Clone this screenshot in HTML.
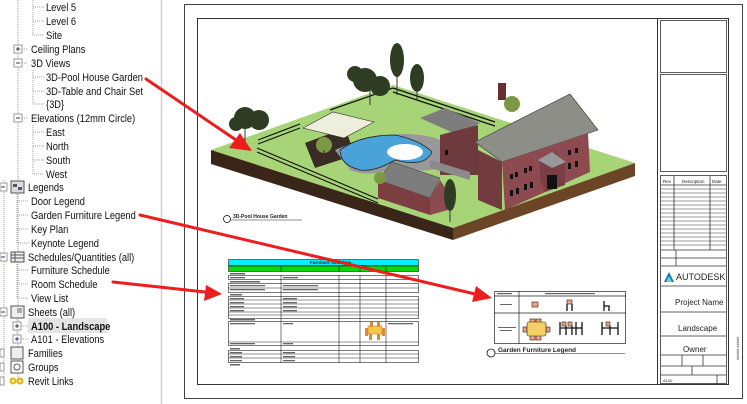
<!DOCTYPE html>
<html><head><meta charset="utf-8"><style>
html,body{margin:0;padding:0;background:#fff;}
svg{display:block;}
.t{font-family:"Liberation Sans",sans-serif;font-size:11px;fill:#111;}
.s{font-family:"Liberation Sans",sans-serif;fill:#222;}
</style></head><body>
<svg width="747" height="404" viewBox="0 0 747 404" xmlns="http://www.w3.org/2000/svg">
<rect width="747" height="404" fill="#fff"/>
<line x1="161.5" y1="0" x2="161.5" y2="404" stroke="#d0d0d0" stroke-width="1.5"/>
<g stroke="#a0a0a0" stroke-dasharray="1,1" fill="none">
<path d="M33 0V35H44M33 7H44M33 21H44"/>
<path d="M18 0V380"/>
<path d="M18 49H28M18 63H28M18 118H28"/>
<path d="M33 70V104H44M33 77H44M33 91H44"/>
<path d="M33 125V174H44M33 132H44M33 146H44M33 160H44"/>
<path d="M4 180V380"/>
<path d="M17 194V243H29M17 201H29M17 215H29M17 229H29"/>
<path d="M17 264V298H29M17 270H29M17 284H29"/>
<path d="M17 319V339H29M17 326H29"/>
</g>
<g fill="#fff" stroke="#999" stroke-width="1">
<rect x="14" y="45" width="8" height="8"/><rect x="14" y="59" width="8" height="8"/><rect x="14" y="114" width="8" height="8"/>
<rect x="0" y="183" width="7" height="8"/><rect x="0" y="253" width="7" height="8"/><rect x="0" y="308" width="7" height="8"/>
<rect x="13" y="322" width="8" height="8"/><rect x="13" y="335" width="8" height="8"/>
<rect x="0" y="349" width="4" height="8"/><rect x="0" y="363" width="4" height="8"/><rect x="0" y="377" width="4" height="8"/>
</g>
<g stroke="#336" stroke-width="1"><path d="M16 49H20M18 47V51M16 63H20M16 118H20M1 187H5M1 257H5M1 312H5M15 326H19M17 324V328M15 339H19M17 337V341"/></g>
<rect x="11" y="181" width="13" height="12" fill="#ddd" stroke="#555"/><rect x="13" y="184" width="4" height="3" fill="#556"/><rect x="18" y="187" width="4" height="3" fill="#556"/>
<rect x="11" y="252" width="13" height="10" fill="#eee" stroke="#555"/><path d="M11 255H24M11 258H24M15 252V262" stroke="#555"/>
<rect x="11" y="306" width="13" height="12" fill="#eee" stroke="#555"/><rect x="17" y="308" width="5" height="5" fill="#aaa"/>
<rect x="11" y="347" width="12" height="12" fill="#eee" stroke="#555"/>
<rect x="11" y="361" width="12" height="12" fill="#fff" stroke="#555"/><circle cx="17" cy="367" r="3" fill="none" stroke="#555"/>
<circle cx="13" cy="381" r="3.5" fill="#e8b800"/><circle cx="20" cy="381" r="3.5" fill="#e8b800"/><circle cx="13" cy="381" r="1.3" fill="#fff"/><circle cx="20" cy="381" r="1.3" fill="#fff"/>
<rect x="28" y="318" width="79" height="15" fill="#e4e4e4"/>
<g class="t" transform="scale(0.85 1)">
<text x="54.1" y="11">Level 5</text><text x="54.1" y="25">Level 6</text><text x="54.1" y="39">Site</text>
<text x="36.5" y="53">Ceiling Plans</text><text x="36.5" y="67">3D Views</text>
<text x="54.1" y="81">3D-Pool House Garden</text><text x="54.1" y="95">3D-Table and Chair Set</text><text x="54.1" y="108">{3D}</text>
<text x="36.5" y="122">Elevations (12mm Circle)</text>
<text x="54.1" y="136">East</text><text x="54.1" y="150">North</text><text x="54.1" y="164">South</text><text x="54.1" y="178">West</text>
<text x="32.9" y="191">Legends</text>
<text x="36.5" y="205">Door Legend</text><text x="36.5" y="219">Garden Furniture Legend</text><text x="36.5" y="233">Key Plan</text><text x="36.5" y="247">Keynote Legend</text>
<text x="32.9" y="261">Schedules/Quantities (all)</text>
<text x="36.5" y="274">Furniture Schedule</text><text x="36.5" y="288">Room Schedule</text><text x="36.5" y="302">View List</text>
<text x="32.9" y="316">Sheets (all)</text>
<text x="36.5" y="330" font-weight="bold">A100 - Landscape</text><text x="36.5" y="343">A101 - Elevations</text>
<text x="32.9" y="357">Families</text><text x="32.9" y="371">Groups</text><text x="32.9" y="385">Revit Links</text>
</g>
<rect x="184.5" y="4.5" width="558" height="394" fill="#fff" stroke="#444" stroke-width="1"/>
<rect x="197.5" y="18.5" width="531" height="366" fill="none" stroke="#333" stroke-width="1"/>
<line x1="657.5" y1="18" x2="657.5" y2="385" stroke="#333"/>
<g fill="none" stroke="#333" stroke-width="0.8">
<rect x="660.5" y="20.5" width="66" height="52"/>
<rect x="660.5" y="74.5" width="66" height="97"/>
<rect x="660.5" y="175.5" width="66" height="208"/>
<path d="M661 185H726M674 176V250M710 176V250M661 250H726"/>
<path d="M661 189H726M661 193H726M661 197H726M661 201H726M661 205H726M661 209H726M661 213H726M661 217H726M661 221H726M661 225H726M661 229H726M661 233H726M661 237H726M661 241H726M661 245H726" stroke-width="0.5"/>
<path d="M661 258H726M676 250V266M661 266H726M661 286H726M661 312H726M661 336H726M661 355H726M661 366H726M661 375H726M682 355V366M703 355V366M692 366V375M717 375V384"/>
</g>
<g class="s" font-size="4.5"><text x="663" y="183">Rev</text><text x="682" y="183">Description</text><text x="712" y="183">Date</text></g>
<path d="M664 282L669 272L674 282Z" fill="#0a79b5"/><path d="M666 282L669 276L672 282Z" fill="#7cc"/>
<text class="s" x="676" y="280" font-size="9" fill="#222">AUTODESK</text>
<text class="s" x="675" y="305" font-size="8">Project Name</text>
<text class="s" x="678" y="331" font-size="8">Landscape</text>
<text class="s" x="683" y="352" font-size="8">Owner</text>
<text class="s" x="663" y="382" font-size="4">A100</text>
<text class="s" x="739" y="360" font-size="4" transform="rotate(-90 739 360)">#####  #####</text>
<polygon points="211,150 393,85 635,163 453,228" fill="#a6d476"/>
<polygon points="211,150 453,228 453,240 211,164" fill="#3a2618"/>
<polygon points="453,228 635,163 635,176 453,240" fill="#6b4526"/>
<g stroke="#111" stroke-width="1.2" fill="none">
<path d="M257 148L378 199M257 152L378 203M258 140L300 124M258 144L300 128M330 110L393 88M393 88L495 122M393 92L495 126"/>
</g>
<polygon points="305,143 345,128 355,155 315,168" fill="#3a2c25"/>
<polygon points="303,128 333,112 374,122 344,138" fill="#eeeedd" stroke="#333" stroke-width="0.6"/>
<path d="M335,150 Q380,130 420,135 Q460,140 450,165 Q420,175 395,168 Q370,178 350,170 Z" fill="#999"/>
<path d="M340,150 Q360,135 395,135 Q420,140 432,152 Q425,168 395,160 Q375,172 360,170 Q340,165 340,150Z" fill="#4aa3d8" stroke="#222" stroke-width="0.8"/>
<ellipse cx="405" cy="152" rx="18" ry="8" fill="#fff"/>
<polygon points="378,180 392,162 440,178 430,198" fill="#7d7d7d" stroke="#333" stroke-width="0.5"/>
<polygon points="378,180 430,198 430,215 378,198" fill="#7d3e42"/>
<polygon points="430,198 440,180 448,192 448,210 430,215" fill="#8b4b50"/>
<polygon points="420,118 445,108 480,123 458,135" fill="#7d7d7d"/>
<polygon points="440,135 478,125 478,175 440,175" fill="#6f3a3d"/>
<polygon points="430,160 470,172 470,180 430,168" fill="#8a8a8a"/>
<polygon points="498,25 506,25 506,42 498,42" fill="#6b2e2e" transform="translate(0,58)"/>
<polygon points="475,142 570,94 598,130 502,162" fill="#8e8e88" stroke="#444" stroke-width="0.7"/>
<polygon points="478,150 502,162 502,210 478,200" fill="#723b3f"/>
<polygon points="502,162 588,133 590,172 505,210" fill="#8d4a50"/>
<polygon points="540,160 555,152 565,162 565,185 545,192 540,180" fill="#7a3f44"/>
<polygon points="538,160 552,152 566,162 552,168" fill="#999"/>
<rect x="547" y="175" width="10" height="14" fill="#111"/>
<g fill="#111">
<rect x="510" y="174" width="3" height="5"/><rect x="515" y="172" width="3" height="5"/><rect x="510" y="190" width="3" height="6"/><rect x="516" y="188" width="3" height="6"/>
<rect x="524" y="168" width="3" height="5"/><rect x="529" y="166" width="3" height="5"/><rect x="524" y="184" width="3" height="6"/><rect x="530" y="182" width="3" height="6"/>
<rect x="568" y="150" width="3" height="5"/><rect x="575" y="148" width="3" height="5"/><rect x="568" y="163" width="3" height="6"/><rect x="575" y="161" width="3" height="6"/>
<rect x="445" y="150" width="3" height="5"/>
</g>
<g fill="#2e3d22">
<circle cx="245" cy="118" r="11"/><circle cx="259" cy="120" r="10"/><circle cx="236" cy="124" r="7"/>
<circle cx="365" cy="80" r="12"/><circle cx="380" cy="86" r="10"/><circle cx="355" cy="74" r="8"/>
<ellipse cx="397" cy="60" rx="7" ry="17"/><ellipse cx="417" cy="78" rx="7" ry="14"/>
<ellipse cx="450" cy="195" rx="6" ry="16"/>
</g>
<g fill="#7c9a45"><circle cx="324" cy="145" r="8"/><circle cx="512" cy="104" r="8"/><circle cx="380" cy="178" r="6"/></g>
<g stroke="#333" stroke-width="1"><path d="M245 128V150M370 90V105M397 75V95M417 90V100M450 205V222M324 150V162"/></g>
<circle cx="227" cy="219" r="3.5" fill="#fff" stroke="#111" stroke-width="0.8"/>
<text class="s" x="233" y="218" font-size="5" font-weight="bold">3D-Pool House Garden</text>
<line x1="230" y1="220" x2="302" y2="220" stroke="#222" stroke-width="0.6"/>
<rect x="228.5" y="259.5" width="190" height="6" fill="#00f0ff" stroke="#222" stroke-width="0.6"/>
<rect x="228.5" y="266" width="190" height="5.5" fill="#0cd60c" stroke="#222" stroke-width="0.6"/>
<g stroke="#222" stroke-width="0.6" fill="none">
<path d="M281 266V272M339 266V272M360 266V272M386 266V272"/>
<rect x="228.5" y="275.5" width="190" height="4"/>
<rect x="228.5" y="283.5" width="190" height="9"/><path d="M228 288H419"/>
<rect x="228.5" y="296.5" width="190" height="22"/><path d="M228 300H419M228 304H419M228 308H419M228 312H419M228 315H419"/>
<rect x="228.5" y="321.5" width="190" height="24"/><path d="M228 342H419"/>
<rect x="228.5" y="350.5" width="190" height="12"/><path d="M228 354H419M228 358H419"/>
<path d="M281 275V363M339 275V363M360 275V363M386 275V363"/>
</g>
<g fill="#666">
<rect x="230" y="273" width="15" height="1.5"/><rect x="230" y="281" width="30" height="1.5"/><rect x="230" y="294" width="12" height="1.5"/>
<rect x="230" y="277" width="15" height="1.3"/><rect x="283" y="277" width="15" height="1.3"/>
<rect x="230" y="285" width="35" height="1.3"/><rect x="283" y="285" width="35" height="1.3"/><rect x="230" y="289" width="35" height="1.3"/><rect x="283" y="289" width="35" height="1.3"/>
<rect x="230" y="298" width="14" height="1.3"/><rect x="283" y="298" width="14" height="1.3"/><rect x="230" y="302" width="14" height="1.3"/><rect x="283" y="302" width="14" height="1.3"/>
<rect x="230" y="306" width="14" height="1.3"/><rect x="283" y="306" width="14" height="1.3"/><rect x="230" y="310" width="14" height="1.3"/><rect x="283" y="310" width="14" height="1.3"/>
<rect x="230" y="319" width="25" height="1.5"/><rect x="230" y="323" width="25" height="1.3"/><rect x="283" y="323" width="10" height="1.3"/><rect x="388" y="323" width="25" height="1.3"/>
<rect x="230" y="343" width="25" height="1.3"/><rect x="283" y="343" width="10" height="1.3"/><rect x="230" y="348" width="10" height="1.5"/>
<rect x="230" y="352" width="12" height="1.3"/><rect x="283" y="352" width="12" height="1.3"/><rect x="230" y="356" width="12" height="1.3"/><rect x="283" y="356" width="12" height="1.3"/><rect x="230" y="360" width="12" height="1.3"/><rect x="283" y="360" width="12" height="1.3"/>
<rect x="230" y="364" width="10" height="1.5"/>
</g>
<text class="s" x="310" y="264" font-size="4.5" font-weight="bold">Furniture Schedule</text>
<rect x="368" y="326" width="14" height="8" fill="#f5c84a" stroke="#c8782c" stroke-width="0.6"/>
<g fill="#d88b3a"><rect x="365" y="328" width="3" height="8"/><rect x="382" y="328" width="3" height="8"/><rect x="369" y="334" width="3" height="6"/><rect x="377" y="334" width="3" height="6"/><rect x="370" y="322" width="3" height="5"/><rect x="377" y="322" width="3" height="5"/></g>
<g fill="none" stroke="#222" stroke-width="0.7">
<rect x="494.5" y="291.5" width="131" height="52"/><path d="M494 296H626M519 291V344M494 313H626"/>
</g>
<g fill="#666"><rect x="497" y="293" width="15" height="1.2"/><rect x="545" y="293" width="50" height="1.2"/><rect x="500" y="304" width="12" height="1"/><rect x="498" y="327" width="18" height="1"/><rect x="500" y="330" width="12" height="1"/></g>
<g fill="#f4a07c" stroke="#222" stroke-width="0.6">
<rect x="532" y="302" width="6" height="5"/><rect x="567" y="300" width="5" height="4"/>
<rect x="530" y="319" width="5" height="5"/><rect x="536" y="319" width="5" height="5"/><rect x="530" y="335" width="5" height="5"/><rect x="536" y="335" width="5" height="5"/>
<rect x="523" y="327" width="4" height="5"/><rect x="546" y="327" width="4" height="5"/>
<rect x="562" y="322" width="4" height="4"/><rect x="568" y="322" width="4" height="4"/><rect x="606" y="322" width="4" height="4"/>
</g>
<rect x="527" y="322" width="19" height="14" rx="2" fill="#f5d060" stroke="#222" stroke-width="0.6"/>
<g stroke="#111" stroke-width="1.3" fill="none">
<path d="M567 304V311M572 304V311M604 301V311M604 306H609V311"/>
<path d="M560 322V335M560 328H582M582 322V335M566 326V335M572 326V335M576 322V335M602 322V335M602 328H618M618 322V335M610 326V335"/>
</g>
<circle cx="491" cy="353" r="4" fill="#fff" stroke="#111" stroke-width="0.8"/>
<text class="s" x="498" y="352" font-size="6.5" font-weight="bold">Garden Furniture Legend</text>
<line x1="495" y1="353.5" x2="625" y2="353.5" stroke="#222" stroke-width="0.6"/>
<g stroke="#ee1c1c" stroke-width="3" fill="#ee1c1c" stroke-linecap="round">
<line x1="146" y1="79" x2="236" y2="140"/>
<polygon points="252,151 229,148 240,133" stroke="none"/>
<line x1="140" y1="215" x2="475" y2="294"/>
<polygon points="492,298 472,302 476,286" stroke="none"/>
<line x1="113" y1="282" x2="205" y2="292"/>
<polygon points="222,294 204,301 206,285" stroke="none"/>
</g>
</svg>
</body></html>
